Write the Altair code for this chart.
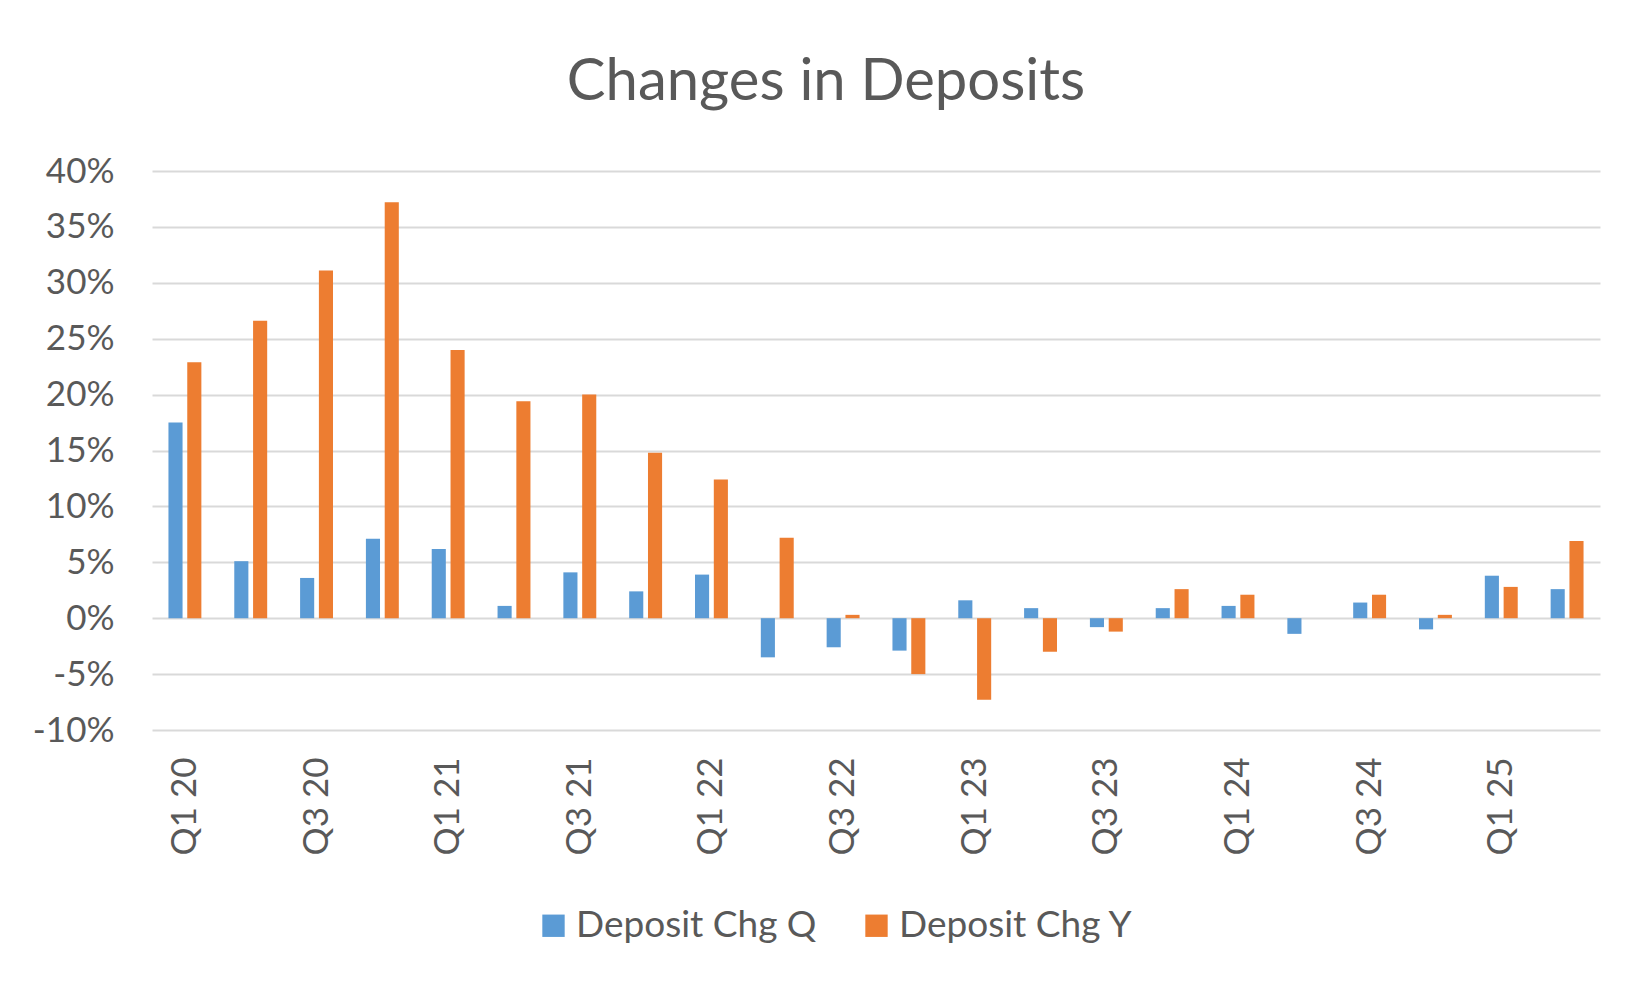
import altair as alt
import pandas as pd

quarters = ["Q1 20", "Q2 20", "Q3 20", "Q4 20", "Q1 21", "Q2 21", "Q3 21", "Q4 21",
            "Q1 22", "Q2 22", "Q3 22", "Q4 22", "Q1 23", "Q2 23", "Q3 23", "Q4 23",
            "Q1 24", "Q2 24", "Q3 24", "Q4 24", "Q1 25", "Q2 25"]
deposit_chg_q = [17.5, 5.1, 3.6, 7.1, 6.2, 1.1, 4.1, 2.4, 3.9, -3.5, -2.6, -2.9,
                 1.6, 0.9, -0.8, 0.9, 1.1, -1.4, 1.4, -1.0, 3.8, 2.6]
deposit_chg_y = [22.9, 26.6, 31.1, 37.2, 24.0, 19.4, 20.0, 14.8, 12.4, 7.2, 0.3, -5.0,
                 -7.3, -3.0, -1.2, 2.6, 2.1, 0.0, 2.1, 0.3, 2.8, 6.9]
series_names = ["Deposit Chg Q", "Deposit Chg Y"]
series_colors = ["#5B9BD5", "#ED7D31"]
y_ticks = [-10, -5, 0, 5, 10, 15, 20, 25, 30, 35, 40]

rows = []
for i, q in enumerate(quarters):
    rows.append({"quarter": q, "series": series_names[0], "value": deposit_chg_q[i]})
    rows.append({"quarter": q, "series": series_names[1], "value": deposit_chg_y[i]})
df = pd.DataFrame(rows)

TXT = "#595959"
GRID = "#D9D9D9"

chart = alt.Chart(df).mark_bar().encode(
    x=alt.X("quarter:N", sort=quarters,
            scale=alt.Scale(paddingInner=0.5, paddingOuter=0.25),
            axis=alt.Axis(title=None, labelAngle=-90, domain=False, ticks=False,
                          labelPadding=27, labelFontSize=35, labelColor=TXT,
                          labelFont="Lato",
                          labelExpr="(substring(datum.label,0,2) == 'Q1' || substring(datum.label,0,2) == 'Q3') ? datum.label : ''")),
    xOffset=alt.XOffset("series:N", sort=series_names,
                        scale=alt.Scale(paddingInner=0.25, paddingOuter=0)),
    y=alt.Y("value:Q", scale=alt.Scale(domain=[-10, 40], nice=False, zero=False),
            axis=alt.Axis(title=None, values=y_ticks, domain=False, ticks=False,
                          labelPadding=38, labelFontSize=35, labelColor=TXT,
                          labelFont="Lato", gridColor=GRID, gridWidth=2,
                          labelExpr="datum.value + '%'")),
    color=alt.Color("series:N", sort=series_names,
                    scale=alt.Scale(domain=series_names, range=series_colors),
                    legend=alt.Legend(title=None, orient="none", direction="horizontal",
                                      legendX=383, legendY=736,
                                      symbolType="square", symbolSize=500,
                                      symbolStrokeWidth=0, labelFontSize=37,
                                      labelColor=TXT, labelFont="Lato",
                                      labelLimit=0, labelOffset=4, columnPadding=41)),
).properties(
    width=1448,
    height=559,
    title=alt.TitleParams("Changes in Deposits", font="Lato", fontSize=58,
                          fontWeight="normal", color=TXT, anchor="middle",
                          dx=-50, offset=42),
    autosize=alt.AutoSizeParams(type="none"),
    padding={"left": 144, "top": 163, "right": 40, "bottom": 250},
).configure(background="white").configure_view(stroke=None, strokeWidth=0)

chart.save("out.html", embed_options={"renderer": "svg", "actions": False})
